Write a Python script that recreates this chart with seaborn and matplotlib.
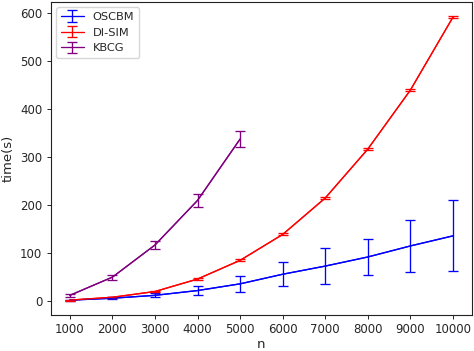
import numpy as np
import pandas as pd
import seaborn as sns
import matplotlib
matplotlib.use("Agg")
import matplotlib.pyplot as plt

n_all = [1000, 2000, 3000, 4000, 5000, 6000, 7000, 8000, 9000, 10000]
n_kbcg = [1000, 2000, 3000, 4000, 5000]

oscbm_mean = [1, 5, 11, 21, 35, 55, 72, 91, 114, 135]
oscbm_err = [1, 2, 4, 10, 16, 25, 38, 37, 55, 74]

disim_mean = [1, 7, 19, 45, 84, 138, 214, 316, 439, 591]
disim_err = [1, 1, 1.5, 1.5, 2, 2, 2, 2.5, 2.5, 2.5]

kbcg_mean = [11, 49, 116, 209, 337]
kbcg_err = [3, 5, 9, 13, 16]

labels = ["OSCBM", "DI-SIM", "KBCG"]
colors = ["blue", "red", "purple"]

sns.set_style("white")
plt.rcParams['font.family'] = ['DejaVu Sans']

df = pd.concat([
    pd.DataFrame({"n": n_all, "time": oscbm_mean, "method": "OSCBM"}),
    pd.DataFrame({"n": n_all, "time": disim_mean, "method": "DI-SIM"}),
    pd.DataFrame({"n": n_kbcg, "time": kbcg_mean, "method": "KBCG"}),
])

fig = plt.figure(figsize=(4.74, 3.51), dpi=100)
ax = fig.add_axes([0.107, 0.103, 0.889, 0.892])

sns.lineplot(data=df, x="n", y="time", hue="method", hue_order=labels,
             palette=colors, legend=False, linewidth=0.95, ax=ax)

series = [(n_all, oscbm_mean, oscbm_err), (n_all, disim_mean, disim_err),
          (n_kbcg, kbcg_mean, kbcg_err)]
for (x, y, e), lab, c in zip(series, labels, colors):
    ax.errorbar(x, y, yerr=e, fmt='-', color=c, ecolor=c, lw=0.95,
                elinewidth=0.95, capsize=3.3, capthick=0.95, label=lab)

ax.set_xticks(n_all)
ax.set_xticklabels([str(v) for v in n_all])
ax.set_yticks([0, 100, 200, 300, 400, 500, 600])
ax.tick_params(axis='both', labelsize=8.5, direction='out', length=3, width=0.7,
               pad=3, bottom=True, left=True)
ax.set_xlabel("n", fontsize=9.5, labelpad=1)
ax.set_ylabel("time(s)", fontsize=9.5, labelpad=4)
for s in ax.spines.values():
    s.set_color('#222222')
    s.set_linewidth(0.8)
ax.legend(loc='upper left', fontsize=8.2, frameon=True, framealpha=0.8,
          edgecolor='#cccccc', fancybox=True)

fig.savefig("out.png", dpi=100)
